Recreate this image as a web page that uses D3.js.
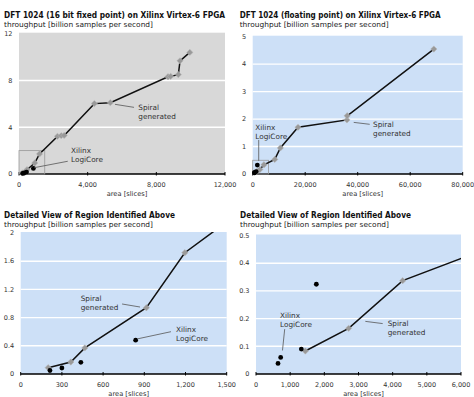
<!DOCTYPE html>
<html>
<head>
  <script src="https://d3js.org/d3.v7.min.js"></script>
  <style>
    body { margin: 0; background: #fff; }
    text { font-family: "DejaVu Sans", Verdana, sans-serif; }
    .title { font-weight: bold; font-size: 8px; fill: #111; }
    .subtitle { font-size: 7.3px; fill: #222; }
    .tick-label { font-size: 6.5px; fill: #333; }
    .axis-label { font-size: 6.7px; fill: #333; }
    .note { font-size: 7.3px; fill: #333; }
  </style>
</head>
<body>
  <script>
    // DFT 1024, 16 bit fixed point: [area in slices, throughput in billion samples/s]
    const fixedSpiral = [
      [200, 0.09], [365, 0.17], [467, 0.37], [915, 0.94], [1195, 1.72],
      [2240, 3.22], [2460, 3.28], [2630, 3.30], [4390, 6.02], [5320, 6.10],
      [8680, 8.32], [8835, 8.35], [9280, 8.50], [9380, 9.68], [9950, 10.40]
    ];
    const fixedXilinx = [[213, 0.05], [300, 0.085], [438, 0.166], [837, 0.48]];

    // DFT 1024, floating point
    const floatSpiral = [
      [1444, 0.083], [2712, 0.165], [4293, 0.337], [8400, 0.53], [10540, 0.95],
      [17270, 1.70], [35900, 1.97], [36000, 2.12], [69000, 4.55]
    ];
    const floatXilinx = [[644, 0.038], [722, 0.06], [1327, 0.09], [1766, 0.324]];

    const fixedXTicks = [0, 4000, 8000, 12000];
    const fixedYTicks = [0, 4, 8, 12];
    const floatXTicks = [0, 20000, 40000, 60000, 80000];
    const floatYTicks = [0, 1, 2, 3, 4, 5];
    const detailFixedXTicks = [0, 300, 600, 900, 1200, 1500];
    const detailFixedYTicks = [0, 0.4, 0.8, 1.2, 1.6, 2];
    const detailFloatXTicks = [0, 1000, 2000, 3000, 4000, 5000, 6000];
    const detailFloatYTicks = [0, 0.1, 0.2, 0.3, 0.4, 0.5];

    const subtitleText = "throughput [billion samples per second]";
    const detailTitle = "Detailed View of Region Identified Above";

    const width = 474;
    const height = 397;
    const svg = d3.select("body").append("svg")
      .attr("width", width)
      .attr("height", height);

    const panels = [
      {
        title: "DFT 1024 (16 bit fixed point) on Xilinx Virtex-6 FPGA", titleW: 221,
        tx: 4, ty: 18, left: 19, right: 225, top: 33.7, bottom: 174,
        xDomain: [0, 12000], yDomain: [0, 12], xTicks: fixedXTicks, yTicks: fixedYTicks,
        bg: "#d8d8d8", spiral: fixedSpiral, xilinx: fixedXilinx, region: [1500, 2],
        spiralNote: { x: 6950, y: 5.45, from: [5590, 5.96], to: [6700, 5.7] },
        xilinxNote: { x: 3030, y: 1.78, from: [2840, 1.09], to: [890, 0.54] }
      },
      {
        title: "DFT 1024 (floating point) on Xilinx Virtex-6 FPGA", titleW: 201,
        tx: 239.7, ty: 18, left: 252.7, right: 462.7, top: 36.7, bottom: 174,
        xDomain: [0, 80000], yDomain: [0, 5], xTicks: floatXTicks, yTicks: floatYTicks,
        bg: "#cde0f7", spiral: floatSpiral, xilinx: floatXilinx, region: [6000, 0.5],
        spiralNote: { x: 45830, y: 1.72, from: [38480, 1.88], to: [44570, 1.81] },
        xilinxNote: { x: 990, y: 1.62, from: [2290, 1.24], to: [2290, 0.48] }
      },
      {
        title: detailTitle, titleW: 171,
        tx: 4, ty: 218, left: 20.7, right: 226.7, top: 233, bottom: 374,
        xDomain: [0, 1500], yDomain: [0, 2], xTicks: detailFixedXTicks, yTicks: detailFixedYTicks,
        bg: "#cde0f7", spiral: fixedSpiral, xilinx: fixedXilinx, clip: true,
        spiralNote: { x: 437, y: 1.03, from: [738, 0.993], to: [869, 0.95] },
        xilinxNote: { x: 1131, y: 0.59, from: [854, 0.50], to: [1094, 0.60] }
      },
      {
        title: detailTitle, titleW: 171,
        tx: 240, ty: 218, left: 256, right: 461, top: 235.5, bottom: 374,
        xDomain: [0, 6000], yDomain: [0, 0.5], xTicks: detailFloatXTicks, yTicks: detailFloatYTicks,
        bg: "#cde0f7", spiral: floatSpiral, xilinx: floatXilinx, clip: true,
        spiralNote: { x: 3855, y: 0.174, from: [3200, 0.19], to: [3708, 0.182] },
        xilinxNote: { x: 702, y: 0.203, from: [840, 0.162], to: [775, 0.085] }
      }
    ];

    // square rotated 45 degrees gives the even diamond of the original
    const diamond = d3.symbol().type(d3.symbolSquare).size(20);

    panels.forEach((p, i) => {
      const g = svg.append("g");
      const x = d3.scaleLinear().domain(p.xDomain).range([p.left, p.right]);
      const y = d3.scaleLinear().domain(p.yDomain).range([p.bottom, p.top]);

      g.append("text").attr("class", "title")
        .attr("x", p.tx).attr("y", p.ty)
        .attr("textLength", p.titleW).attr("lengthAdjust", "spacingAndGlyphs")
        .text(p.title);
      g.append("text").attr("class", "subtitle")
        .attr("x", p.tx).attr("y", p.ty + 9)
        .attr("textLength", 149).attr("lengthAdjust", "spacingAndGlyphs")
        .text(subtitleText);

      g.append("rect")
        .attr("x", p.left).attr("y", p.top - 1)
        .attr("width", p.right - p.left).attr("height", p.bottom - p.top + 1)
        .attr("fill", p.bg);

      g.selectAll(".grid")
        .data(p.yTicks.slice(1, -1))
        .join("line")
        .attr("x1", p.left).attr("x2", p.right)
        .attr("y1", d => y(d)).attr("y2", d => y(d))
        .attr("stroke", "#fff").attr("stroke-width", 1.4);

      g.selectAll(".ylab")
        .data(p.yTicks)
        .join("text")
        .attr("class", "tick-label")
        .attr("x", p.left - 6.5)
        .attr("y", d => y(d))
        .attr("dy", "0.35em")
        .attr("text-anchor", "end")
        .text(d => d);

      // x axis
      g.append("line")
        .attr("x1", p.left).attr("x2", p.right)
        .attr("y1", p.bottom).attr("y2", p.bottom)
        .attr("stroke", "#000").attr("stroke-width", 1.4);
      g.selectAll(".xtick")
        .data(p.xTicks)
        .join("line")
        .attr("x1", d => x(d)).attr("x2", d => x(d))
        .attr("y1", p.bottom - 2).attr("y2", p.bottom + 1.5)
        .attr("stroke", "#000").attr("stroke-width", 1);
      g.selectAll(".xlab")
        .data(p.xTicks)
        .join("text")
        .attr("class", "tick-label")
        .attr("x", d => x(d))
        .attr("y", p.bottom + 13)
        .attr("text-anchor", "middle")
        .text(d => d3.format(",")(d));
      g.append("text").attr("class", "axis-label")
        .attr("x", (p.left + p.right) / 2 + 5)
        .attr("y", p.bottom + 21.5)
        .attr("text-anchor", "middle")
        .text("area [slices]");

      if (p.region) {
        g.append("rect")
          .attr("x", x(0)).attr("y", y(p.region[1]))
          .attr("width", x(p.region[0]) - x(0))
          .attr("height", y(0) - y(p.region[1]))
          .attr("fill", "none")
          .attr("stroke", "#999").attr("stroke-width", 0.8);
      }

      const marks = g.append("g");
      if (p.clip) {
        svg.append("clipPath").attr("id", "clip" + i)
          .append("rect")
          .attr("x", p.left).attr("y", p.top - 1)
          .attr("width", p.right - p.left).attr("height", p.bottom - p.top + 1);
        marks.attr("clip-path", `url(#clip${i})`);
      }

      const line = d3.line().x(d => x(d[0])).y(d => y(d[1]));
      marks.append("path")
        .datum(p.spiral)
        .attr("d", line)
        .attr("fill", "none")
        .attr("stroke", "#111")
        .attr("stroke-width", 1.5);

      marks.selectAll(".spiral")
        .data(p.spiral)
        .join("path")
        .attr("d", diamond)
        .attr("transform", d => `translate(${x(d[0])},${y(d[1])}) rotate(45)`)
        .attr("fill", "#999")
        .attr("stroke", "#b8b8b8")
        .attr("stroke-width", 0.5);

      marks.selectAll(".xilinx")
        .data(p.xilinx)
        .join("circle")
        .attr("cx", d => x(d[0]))
        .attr("cy", d => y(d[1]))
        .attr("r", 2.4)
        .attr("fill", "#000");

      // annotations
      [[p.spiralNote, "Spiral", "generated"], [p.xilinxNote, "Xilinx", "LogiCore"]].forEach(([n, l1, l2]) => {
        g.append("line")
          .attr("x1", x(n.from[0])).attr("y1", y(n.from[1]))
          .attr("x2", x(n.to[0])).attr("y2", y(n.to[1]))
          .attr("stroke", "#555").attr("stroke-width", 0.8);
        const t = g.append("text").attr("class", "note")
          .attr("x", x(n.x)).attr("y", y(n.y));
        t.append("tspan").attr("x", x(n.x)).text(l1);
        t.append("tspan").attr("x", x(n.x)).attr("dy", 9).text(l2);
      });
    });
  </script>
</body>
</html>
